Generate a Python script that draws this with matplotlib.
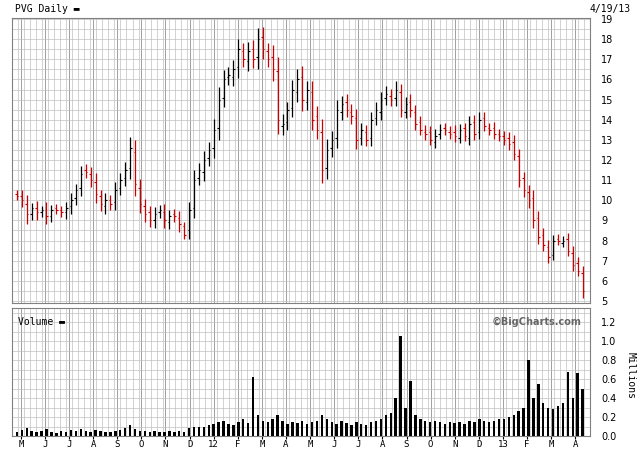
import numpy as np
import matplotlib
matplotlib.use("Agg")
import matplotlib.pyplot as plt

# closes sampled roughly every 4 trading days, Apr 2011 - Apr 2013
closes = [10.2, 10.0, 9.3, 9.6, 9.4, 9.5, 9.2, 9.5, 9.5, 9.4, 9.6, 10.0, 10.5, 11.3, 11.4, 11.0,
          10.3, 9.8, 10.0, 9.8, 10.5, 11.0, 11.5, 12.6, 10.8, 9.8, 9.3, 9.0, 9.3, 9.5, 9.0, 9.2,
          9.2, 8.8, 8.3, 9.5, 11.0, 11.5, 12.0, 12.5, 13.5, 15.0, 16.0, 16.2, 16.5, 17.5, 17.0, 17.4,
          17.0, 18.0, 17.5, 17.0, 16.5, 14.0, 13.8, 14.5, 15.5, 16.0, 15.0, 15.5, 14.0, 13.5, 11.5, 12.5,
          13.0, 14.5, 14.8, 14.5, 14.2, 13.0, 13.5, 13.0, 14.0, 14.5, 15.0, 15.3, 15.0, 15.5, 14.5, 14.8,
          14.5, 13.8, 13.5, 13.3, 13.0, 13.2, 13.5, 13.5, 13.3, 13.2, 13.5, 13.2, 13.8, 13.3, 14.0, 13.7,
          13.5, 13.3, 13.2, 13.0, 12.8, 12.3, 11.0, 10.5, 10.0, 9.0, 8.2, 7.8, 7.2, 8.0, 8.0, 8.0,
          7.5, 6.8, 6.5, 5.5]
opens = [10.3, 10.2, 9.8, 9.3, 9.6, 9.4, 9.5, 9.2, 9.6, 9.5, 9.4, 9.7, 10.1, 10.6, 11.5, 11.3,
         10.9, 10.2, 9.7, 10.0, 9.9, 10.6, 11.1, 11.6, 12.4, 10.6, 9.7, 9.4, 9.0, 9.4, 9.4, 8.9,
         9.3, 9.1, 8.7, 8.5, 9.6, 11.1, 11.4, 12.1, 12.6, 13.6, 15.1, 16.1, 16.1, 16.6, 17.4, 16.9,
         17.5, 17.1, 18.1, 17.4, 17.1, 16.4, 13.7, 13.9, 14.6, 15.4, 16.1, 14.9, 15.4, 14.2, 13.4, 11.6,
         12.6, 13.1, 14.4, 14.9, 14.4, 14.1, 13.1, 13.4, 13.1, 14.1, 14.4, 15.1, 15.2, 15.1, 15.4, 14.4,
         14.9, 14.4, 13.9, 13.4, 13.4, 12.9, 13.3, 13.6, 13.4, 13.4, 13.1, 13.6, 13.1, 13.9, 13.4, 14.1,
         13.6, 13.6, 13.3, 13.2, 13.1, 12.9, 12.2, 11.1, 10.4, 10.1, 9.1, 8.3, 7.7, 7.3, 8.1, 7.9,
         8.1, 7.4, 6.9, 6.4]
ranges = [0.5, 0.8, 1.2, 0.7, 0.9, 0.6, 1.0, 0.7, 0.5, 0.6, 0.8, 0.9, 0.8, 1.0, 0.7, 0.9,
          1.1, 0.8, 0.9, 0.7, 1.0, 0.9, 1.0, 1.3, 1.5, 1.1, 0.9, 0.8, 0.9, 0.7, 1.0, 0.8,
          0.7, 0.9, 0.6, 1.0, 1.2, 0.9, 1.1, 1.0, 1.3, 1.5, 1.2, 1.0, 1.1, 1.3, 1.0, 1.2,
          1.1, 1.4, 1.2, 1.0, 1.5, 1.8, 1.2, 1.0, 1.2, 1.3, 1.4, 1.1, 1.3, 1.2, 1.6, 1.3,
          1.1, 1.2, 1.0, 0.9, 1.0, 1.1, 0.9, 0.8, 1.0, 0.9, 1.0, 0.9, 0.8, 1.0, 0.9, 0.8,
          0.9, 0.8, 0.7, 0.8, 0.7, 0.8, 0.7, 0.6, 0.7, 0.8, 0.7, 0.6, 0.9, 0.8, 0.9, 0.7,
          0.6, 0.7, 0.6, 0.6, 0.7, 0.8, 0.9, 0.8, 0.9, 1.0, 0.9, 0.8, 0.8, 0.7, 0.6, 0.6,
          0.7, 0.8, 0.7, 0.9]
volume = [0.04, 0.06, 0.08, 0.05, 0.04, 0.05, 0.07, 0.04, 0.03, 0.05, 0.04, 0.06, 0.05, 0.07, 0.05, 0.04,
          0.06, 0.05, 0.04, 0.04, 0.05, 0.06, 0.08, 0.12, 0.07, 0.05, 0.05, 0.04, 0.05, 0.04, 0.04, 0.05,
          0.04, 0.05, 0.04, 0.08, 0.10, 0.09, 0.10, 0.12, 0.13, 0.15, 0.16, 0.13, 0.12, 0.15, 0.18, 0.14,
          0.62, 0.22, 0.16, 0.15, 0.18, 0.22, 0.16, 0.13, 0.15, 0.14, 0.16, 0.13, 0.15, 0.16, 0.22, 0.18,
          0.15, 0.13, 0.16, 0.14, 0.12, 0.15, 0.13, 0.12, 0.15, 0.16, 0.18, 0.22, 0.24, 0.40, 1.05, 0.30,
          0.58, 0.22, 0.18, 0.16, 0.15, 0.16, 0.15, 0.13, 0.15, 0.14, 0.15, 0.13, 0.16, 0.15, 0.18, 0.16,
          0.15, 0.16, 0.18, 0.18, 0.20, 0.22, 0.26, 0.30, 0.80, 0.40, 0.55, 0.35, 0.30, 0.28, 0.32, 0.35,
          0.68, 0.40, 0.66, 0.50]
month_labels = ["M", "J", "J", "A", "S", "O", "N", "D", "12", "F", "M", "A", "M", "J", "J", "A",
                "S", "O", "N", "D", "13", "F", "M", "A"]

n = len(closes)
x = np.arange(n)
bars_per_month = 4.9
month_pos = 0.8 + np.arange(len(month_labels)) * bars_per_month

fig = plt.figure(figsize=(6.4, 4.53), dpi=100)
ax = fig.add_axes([12 / 640, 1 - 303 / 453, 578 / 640, 285 / 453])
axv = fig.add_axes([12 / 640, 1 - 436 / 453, 578 / 640, 128 / 453])
font = dict(family="DejaVu Sans Mono", fontsize=7)

for a in (ax, axv):
    a.set_xlim(-1, n + 0.5)
    for p in np.arange(-1, n + 1, 1.225):
        a.axvline(p, color="#c0c0c0", lw=0.5, zorder=0)
    for p in month_pos:
        a.axvline(p, color="#909090", lw=0.6, zorder=0)
    a.yaxis.tick_right()
    a.tick_params(axis="y", length=0, labelsize=7, pad=8)
    for s in a.spines.values():
        s.set_color("#808080")

for i in range(n):
    c = closes[i]
    o = opens[i]
    hi = max(o, c) + ranges[i] * 0.4
    lo = min(o, c) - ranges[i] * 0.4
    col = "#cc0000" if c < o else "black"
    ax.vlines(x[i], lo, hi, color=col, lw=0.9)
    ax.hlines(o, x[i] - 0.3, x[i], color=col, lw=0.8)
    ax.hlines(c, x[i], x[i] + 0.3, color=col, lw=0.8)

ax.set_ylim(4.9, 19.05)
ax.set_yticks(range(5, 20))
for v in np.arange(5, 19.1, 0.5):
    ax.axhline(v, color="#c0c0c0", lw=0.5, zorder=0)
ax.set_xticks([])
ax.text(0.005, 1.015, "PVG Daily ▬", transform=ax.transAxes, va="bottom", **font)
ax.text(1.07, 1.015, "4/19/13", transform=ax.transAxes, va="bottom", ha="right", **font)

axv.bar(x, volume, width=0.5, color="black")
axv.set_ylim(0, 1.35)
axv.set_yticks(np.arange(0, 1.21, 0.2))
axv.set_yticklabels([f"{v:.1f}" for v in np.arange(0, 1.21, 0.2)])
for v in np.arange(0, 1.31, 0.1):
    axv.axhline(v, color="#c0c0c0", lw=0.5, zorder=0)
axv.set_xticks(month_pos)
axv.set_xticklabels(month_labels, family="DejaVu Sans Mono", fontsize=6.5)
axv.tick_params(axis="x", length=2, pad=1)
axv.text(0.01, 0.93, "Volume ▬", transform=axv.transAxes, va="top", **font)
axv.text(0.985, 0.93, "©BigCharts.com", transform=axv.transAxes, va="top", ha="right",
         fontsize=7, fontweight="bold", color="#666666")
fig.text(0.985, 1 - 375 / 453, "Millions", rotation=270, va="center", ha="center", **font)

fig.savefig("out.png", dpi=100, facecolor="white")
